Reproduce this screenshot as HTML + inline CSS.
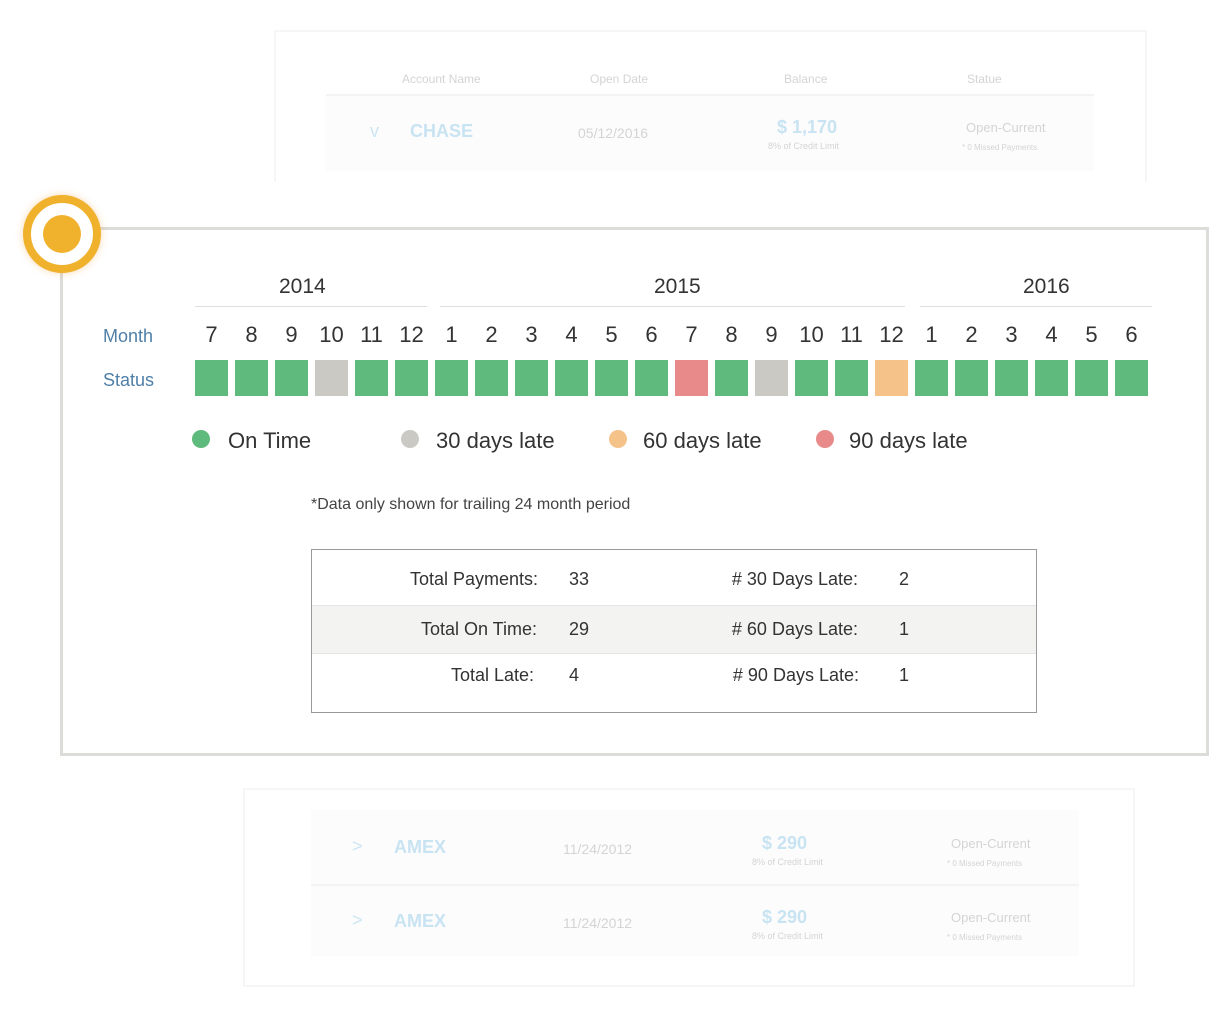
<!DOCTYPE html><html><head><style>
body{margin:0;width:1210px;height:1016px;background:#fff;font-family:"Liberation Sans",sans-serif;position:relative;overflow:hidden}
.a{position:absolute}
.sq{position:absolute;top:360px;width:33px;height:36px}
.m{position:absolute;top:322px;width:33px;text-align:center;font-size:22px;color:#333}
.f{color:#d4d4d4}
</style></head><body>
<div class="a" style="left:274px;top:30px;width:869px;height:150px;border:2px solid #f6f6f4;border-bottom:none"></div>
<div class="a f" style="left:402px;top:72px;font-size:12px">Account Name</div>
<div class="a f" style="left:590px;top:72px;font-size:12px">Open Date</div>
<div class="a f" style="left:784px;top:72px;font-size:12px">Balance</div>
<div class="a f" style="left:967px;top:72px;font-size:12px">Statue</div>
<div class="a" style="left:326px;top:94px;width:768px;height:75px;background:#fcfcfc;border-top:2px solid #f3f3f3"></div>
<div class="a" style="left:370px;top:121px;font-size:18px;color:#cde6f3">v</div>
<div class="a" style="left:410px;top:121px;font-size:18px;font-weight:bold;color:#c8e3f2">CHASE</div>
<div class="a f" style="left:578px;top:125px;font-size:14px">05/12/2016</div>
<div class="a" style="left:777px;top:117px;font-size:18px;font-weight:bold;color:#c8e3f2">$ 1,170</div>
<div class="a f" style="left:768px;top:141px;font-size:9px">8% of Credit Limit</div>
<div class="a f" style="left:966px;top:120px;font-size:13px">Open-Current</div>
<div class="a f" style="left:962px;top:143px;font-size:8px">* 0 Missed Payments</div>

<div class="a" style="left:243px;top:788px;width:888px;height:195px;border:2px solid #f6f6f4"></div>
<div class="a" style="left:311px;top:810px;width:768px;height:74px;background:#fcfcfc;border-bottom:2px solid #f3f3f3"></div>
<div class="a" style="left:311px;top:886px;width:768px;height:70px;background:#fcfcfc"></div>
<div class="a" style="left:352px;top:836px;font-size:18px;color:#cde6f3">&gt;</div>
<div class="a" style="left:394px;top:837px;font-size:18px;font-weight:bold;color:#c8e3f2">AMEX</div>
<div class="a f" style="left:563px;top:841px;font-size:14px">11/24/2012</div>
<div class="a" style="left:762px;top:833px;font-size:18px;font-weight:bold;color:#c8e3f2">$ 290</div>
<div class="a f" style="left:752px;top:857px;font-size:9px">8% of Credit Limit</div>
<div class="a f" style="left:951px;top:836px;font-size:13px">Open-Current</div>
<div class="a f" style="left:947px;top:859px;font-size:8px">* 0 Missed Payments</div>
<div class="a" style="left:352px;top:910px;font-size:18px;color:#cde6f3">&gt;</div>
<div class="a" style="left:394px;top:911px;font-size:18px;font-weight:bold;color:#c8e3f2">AMEX</div>
<div class="a f" style="left:563px;top:915px;font-size:14px">11/24/2012</div>
<div class="a" style="left:762px;top:907px;font-size:18px;font-weight:bold;color:#c8e3f2">$ 290</div>
<div class="a f" style="left:752px;top:931px;font-size:9px">8% of Credit Limit</div>
<div class="a f" style="left:951px;top:910px;font-size:13px">Open-Current</div>
<div class="a f" style="left:947px;top:933px;font-size:8px">* 0 Missed Payments</div>

<div class="a" style="left:60px;top:227px;width:1143px;height:523px;border:3px solid #dcdcd8;background:#fff"></div>
<div class="a" style="left:23px;top:195px;width:62px;height:62px;border-radius:50%;border:8px solid #f0b22c;background:#fff;box-shadow:0 0 8px rgba(240,150,40,.35)"></div>
<div class="a" style="left:43px;top:215px;width:38px;height:38px;border-radius:50%;background:#f0b22c"></div>

<div class="a" style="left:279px;top:275px;font-size:21px;color:#333">2014</div>
<div class="a" style="left:654px;top:275px;font-size:21px;color:#333">2015</div>
<div class="a" style="left:1023px;top:275px;font-size:21px;color:#333">2016</div>
<div class="a" style="left:195px;top:306px;width:232px;height:1px;background:#ddd"></div>
<div class="a" style="left:440px;top:306px;width:465px;height:1px;background:#ddd"></div>
<div class="a" style="left:920px;top:306px;width:232px;height:1px;background:#ddd"></div>
<div class="a" style="left:103px;top:326px;font-size:18px;color:#4f7fa8">Month</div>
<div class="a" style="left:103px;top:370px;font-size:18px;color:#4f7fa8">Status</div>
<div id="g"></div>
<script>
var ms=[7,8,9,10,11,12,1,2,3,4,5,6,7,8,9,10,11,12,1,2,3,4,5,6];
var c={g:'#5eba7d',s:'#cac9c4',r:'#e88a8a',o:'#f5c28a'};
var st=['g','g','g','s','g','g','g','g','g','g','g','g','r','g','s','g','g','o','g','g','g','g','g','g'];
var h='';for(var i=0;i<24;i++){var x=195+i*40;h+='<div class="m" style="left:'+x+'px">'+ms[i]+'</div><div class="sq" style="left:'+x+'px;background:'+c[st[i]]+'"></div>';}
document.getElementById('g').innerHTML=h;
</script>
<div class="a" style="left:192px;top:430px;width:18px;height:18px;border-radius:50%;background:#5eba7d"></div>
<div class="a" style="left:228px;top:428px;font-size:22px;color:#333">On Time</div>
<div class="a" style="left:401px;top:430px;width:18px;height:18px;border-radius:50%;background:#cac9c4"></div>
<div class="a" style="left:436px;top:428px;font-size:22px;color:#333">30 days late</div>
<div class="a" style="left:609px;top:430px;width:18px;height:18px;border-radius:50%;background:#f5c28a"></div>
<div class="a" style="left:643px;top:428px;font-size:22px;color:#333">60 days late</div>
<div class="a" style="left:816px;top:430px;width:18px;height:18px;border-radius:50%;background:#e88a8a"></div>
<div class="a" style="left:849px;top:428px;font-size:22px;color:#333">90 days late</div>
<div class="a" style="left:311px;top:496px;font-size:16px;color:#444">*Data only shown for trailing 24 month period</div>

<div class="a" style="left:311px;top:549px;width:724px;height:162px;border:1px solid #999"></div>
<div class="a" style="left:312px;top:605px;width:724px;height:47px;background:#f3f3f1;border-top:1px solid #e4e4e4;border-bottom:1px solid #e4e4e4"></div>
<div class="a" style="left:300px;top:569px;width:238px;text-align:right;font-size:18px;color:#333">Total Payments:</div>
<div class="a" style="left:569px;top:569px;font-size:18px;color:#333">33</div>
<div class="a" style="left:600px;top:569px;width:258px;text-align:right;font-size:18px;color:#333"># 30 Days Late:</div>
<div class="a" style="left:899px;top:569px;font-size:18px;color:#333">2</div>
<div class="a" style="left:300px;top:619px;width:237px;text-align:right;font-size:18px;color:#333">Total On Time:</div>
<div class="a" style="left:569px;top:619px;font-size:18px;color:#333">29</div>
<div class="a" style="left:600px;top:619px;width:258px;text-align:right;font-size:18px;color:#333"># 60 Days Late:</div>
<div class="a" style="left:899px;top:619px;font-size:18px;color:#333">1</div>
<div class="a" style="left:300px;top:665px;width:234px;text-align:right;font-size:18px;color:#333">Total Late:</div>
<div class="a" style="left:569px;top:665px;font-size:18px;color:#333">4</div>
<div class="a" style="left:600px;top:665px;width:259px;text-align:right;font-size:18px;color:#333"># 90 Days Late:</div>
<div class="a" style="left:899px;top:665px;font-size:18px;color:#333">1</div>
</body></html>
